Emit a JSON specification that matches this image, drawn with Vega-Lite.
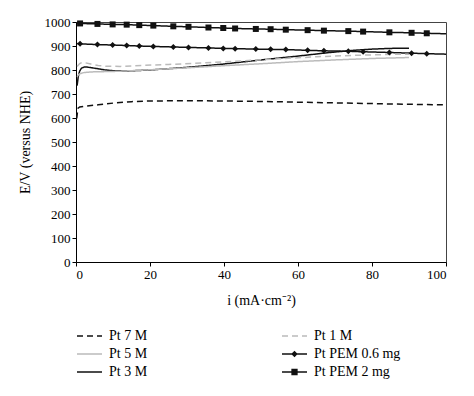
{
  "$schema": "https://vega.github.io/schema/vega-lite/v6.json",
  "autosize": "none",
  "width": 370,
  "height": 240,
  "padding": {"left": 76, "top": 22, "right": 28, "bottom": 134},
  "background": "white",
  "config": {
    "font": "Liberation Serif",
    "view": {"stroke": "#444", "strokeWidth": 1},
    "axis": {
      "labelFont": "Liberation Serif", "labelFontSize": 13, "labelColor": "black",
      "titleFont": "Liberation Serif", "titleFontSize": 14, "titleFontWeight": "normal", "titleColor": "black",
      "domainColor": "black", "tickColor": "black", "tickSize": 4, "grid": false, "labelPadding": 2, "format": "d"
    },
    "legend": {
      "labelFont": "Liberation Serif", "labelFontSize": 14, "labelColor": "black"
    }
  },
  "datasets": {
    "curves": [
      {"series": "Pt PEM 2 mg", "i": 0.3, "E": 995},
      {"series": "Pt PEM 2 mg", "i": 1.1, "E": 994},
      {"series": "Pt PEM 2 mg", "i": 5.8, "E": 992},
      {"series": "Pt PEM 2 mg", "i": 9.9, "E": 990},
      {"series": "Pt PEM 2 mg", "i": 13.7, "E": 989},
      {"series": "Pt PEM 2 mg", "i": 17.1, "E": 987},
      {"series": "Pt PEM 2 mg", "i": 20.9, "E": 985},
      {"series": "Pt PEM 2 mg", "i": 26.3, "E": 982},
      {"series": "Pt PEM 2 mg", "i": 30.4, "E": 980},
      {"series": "Pt PEM 2 mg", "i": 35.8, "E": 977},
      {"series": "Pt PEM 2 mg", "i": 39.8, "E": 975},
      {"series": "Pt PEM 2 mg", "i": 43, "E": 973},
      {"series": "Pt PEM 2 mg", "i": 48.6, "E": 971},
      {"series": "Pt PEM 2 mg", "i": 52.6, "E": 970},
      {"series": "Pt PEM 2 mg", "i": 56.7, "E": 968},
      {"series": "Pt PEM 2 mg", "i": 62.6, "E": 966},
      {"series": "Pt PEM 2 mg", "i": 67, "E": 964},
      {"series": "Pt PEM 2 mg", "i": 73.6, "E": 962},
      {"series": "Pt PEM 2 mg", "i": 77.6, "E": 960},
      {"series": "Pt PEM 2 mg", "i": 84.7, "E": 957},
      {"series": "Pt PEM 2 mg", "i": 90.7, "E": 955},
      {"series": "Pt PEM 2 mg", "i": 94.8, "E": 953},
      {"series": "Pt PEM 2 mg", "i": 100, "E": 951},

      {"series": "Pt PEM 0.6 mg", "i": 0.3, "E": 910},
      {"series": "Pt PEM 0.6 mg", "i": 1.1, "E": 909},
      {"series": "Pt PEM 0.6 mg", "i": 5.8, "E": 906},
      {"series": "Pt PEM 0.6 mg", "i": 9.9, "E": 904},
      {"series": "Pt PEM 0.6 mg", "i": 13.7, "E": 902},
      {"series": "Pt PEM 0.6 mg", "i": 17.1, "E": 900},
      {"series": "Pt PEM 0.6 mg", "i": 20.9, "E": 898},
      {"series": "Pt PEM 0.6 mg", "i": 26.3, "E": 896},
      {"series": "Pt PEM 0.6 mg", "i": 30.4, "E": 894},
      {"series": "Pt PEM 0.6 mg", "i": 35.8, "E": 892},
      {"series": "Pt PEM 0.6 mg", "i": 39.8, "E": 890},
      {"series": "Pt PEM 0.6 mg", "i": 43, "E": 889},
      {"series": "Pt PEM 0.6 mg", "i": 48.6, "E": 887},
      {"series": "Pt PEM 0.6 mg", "i": 52.6, "E": 886},
      {"series": "Pt PEM 0.6 mg", "i": 56.7, "E": 885},
      {"series": "Pt PEM 0.6 mg", "i": 62.6, "E": 882},
      {"series": "Pt PEM 0.6 mg", "i": 67, "E": 880},
      {"series": "Pt PEM 0.6 mg", "i": 73.6, "E": 878},
      {"series": "Pt PEM 0.6 mg", "i": 77.6, "E": 876},
      {"series": "Pt PEM 0.6 mg", "i": 84.7, "E": 873},
      {"series": "Pt PEM 0.6 mg", "i": 90.7, "E": 870},
      {"series": "Pt PEM 0.6 mg", "i": 94.8, "E": 868},
      {"series": "Pt PEM 0.6 mg", "i": 100, "E": 866},

      {"series": "Pt 3 M", "i": 0.3, "E": 735},
      {"series": "Pt 3 M", "i": 0.6, "E": 772},
      {"series": "Pt 3 M", "i": 1, "E": 796},
      {"series": "Pt 3 M", "i": 1.5, "E": 808},
      {"series": "Pt 3 M", "i": 2.2, "E": 812},
      {"series": "Pt 3 M", "i": 3, "E": 812},
      {"series": "Pt 3 M", "i": 4, "E": 810},
      {"series": "Pt 3 M", "i": 6, "E": 805},
      {"series": "Pt 3 M", "i": 8, "E": 800},
      {"series": "Pt 3 M", "i": 10, "E": 797},
      {"series": "Pt 3 M", "i": 14, "E": 796},
      {"series": "Pt 3 M", "i": 20, "E": 800},
      {"series": "Pt 3 M", "i": 30, "E": 811},
      {"series": "Pt 3 M", "i": 40, "E": 825},
      {"series": "Pt 3 M", "i": 50, "E": 842},
      {"series": "Pt 3 M", "i": 60, "E": 858},
      {"series": "Pt 3 M", "i": 68, "E": 872},
      {"series": "Pt 3 M", "i": 75, "E": 882},
      {"series": "Pt 3 M", "i": 80, "E": 887},
      {"series": "Pt 3 M", "i": 85, "E": 890},
      {"series": "Pt 3 M", "i": 90, "E": 891},

      {"series": "Pt 5 M", "i": 0.3, "E": 772},
      {"series": "Pt 5 M", "i": 0.6, "E": 779},
      {"series": "Pt 5 M", "i": 1, "E": 784},
      {"series": "Pt 5 M", "i": 2, "E": 789},
      {"series": "Pt 5 M", "i": 4, "E": 792},
      {"series": "Pt 5 M", "i": 7, "E": 793},
      {"series": "Pt 5 M", "i": 10, "E": 794},
      {"series": "Pt 5 M", "i": 15, "E": 797},
      {"series": "Pt 5 M", "i": 20, "E": 801},
      {"series": "Pt 5 M", "i": 30, "E": 809},
      {"series": "Pt 5 M", "i": 40, "E": 818},
      {"series": "Pt 5 M", "i": 50, "E": 826},
      {"series": "Pt 5 M", "i": 60, "E": 835},
      {"series": "Pt 5 M", "i": 70, "E": 842},
      {"series": "Pt 5 M", "i": 80, "E": 848},
      {"series": "Pt 5 M", "i": 90, "E": 852},

      {"series": "Pt 1 M", "i": 0.3, "E": 815},
      {"series": "Pt 1 M", "i": 1, "E": 827},
      {"series": "Pt 1 M", "i": 1.6, "E": 831},
      {"series": "Pt 1 M", "i": 2.5, "E": 830},
      {"series": "Pt 1 M", "i": 4, "E": 825},
      {"series": "Pt 1 M", "i": 6, "E": 819},
      {"series": "Pt 1 M", "i": 8, "E": 816},
      {"series": "Pt 1 M", "i": 12, "E": 815},
      {"series": "Pt 1 M", "i": 18, "E": 819},
      {"series": "Pt 1 M", "i": 25, "E": 823},
      {"series": "Pt 1 M", "i": 35, "E": 830},
      {"series": "Pt 1 M", "i": 45, "E": 838},
      {"series": "Pt 1 M", "i": 55, "E": 847},
      {"series": "Pt 1 M", "i": 65, "E": 855},
      {"series": "Pt 1 M", "i": 75, "E": 861},
      {"series": "Pt 1 M", "i": 85, "E": 865},
      {"series": "Pt 1 M", "i": 90, "E": 866},

      {"series": "Pt 7 M", "i": 0.2, "E": 598},
      {"series": "Pt 7 M", "i": 0.4, "E": 625},
      {"series": "Pt 7 M", "i": 0.5, "E": 640},
      {"series": "Pt 7 M", "i": 1, "E": 646},
      {"series": "Pt 7 M", "i": 3, "E": 650},
      {"series": "Pt 7 M", "i": 6, "E": 655},
      {"series": "Pt 7 M", "i": 10, "E": 662},
      {"series": "Pt 7 M", "i": 15, "E": 668},
      {"series": "Pt 7 M", "i": 20, "E": 671},
      {"series": "Pt 7 M", "i": 30, "E": 672},
      {"series": "Pt 7 M", "i": 40, "E": 671},
      {"series": "Pt 7 M", "i": 50, "E": 669},
      {"series": "Pt 7 M", "i": 60, "E": 666},
      {"series": "Pt 7 M", "i": 70, "E": 663},
      {"series": "Pt 7 M", "i": 80, "E": 660},
      {"series": "Pt 7 M", "i": 90, "E": 657},
      {"series": "Pt 7 M", "i": 100, "E": 655}
    ]
  },
  "data": {"name": "curves"},
  "encoding": {
    "x": {"field": "i", "type": "quantitative", "scale": {"domain": [0, 100], "nice": false},
      "axis": {"title": "i (mA·cm⁻²)", "values": [0, 20, 40, 60, 80, 100], "titlePadding": 12}},
    "y": {"field": "E", "type": "quantitative", "scale": {"domain": [0, 1000], "nice": false},
      "axis": {"title": "E/V (versus NHE)", "values": [0, 100, 200, 300, 400, 500, 600, 700, 800, 900, 1000], "titlePadding": 12}}
  },
  "layer": [
    {
      "mark": {"type": "line", "strokeWidth": 1.5},
      "encoding": {
        "color": {"field": "series", "type": "nominal",
          "scale": {"domain": ["Pt 7 M", "Pt 5 M", "Pt 3 M", "Pt 1 M", "Pt PEM 0.6 mg", "Pt PEM 2 mg"],
                    "range": ["#111111", "#bbbbbb", "#111111", "#bbbbbb", "#111111", "#111111"]},
          "legend": {
            "title": null, "orient": "bottom", "direction": "vertical", "columns": 2,
            "columnPadding": 131, "rowPadding": 2, "symbolSize": 256, "symbolStrokeWidth": 1.5,
            "labelOffset": 15, "offset": 20,
            "encode": {"symbols": {"update": {
              "shape": {"signal": "datum.value === 'Pt PEM 0.6 mg' ? 'M-1,0L2.125,0M0.5625,-0.28L0.8425,0L0.5625,0.28L0.2825,0Z' : datum.value === 'Pt PEM 2 mg' ? 'M-1,0L2.125,0M0.2625,-0.3L0.8625,-0.3L0.8625,0.3L0.2625,0.3Z' : 'M-1,0L2.125,0'"},
              "fill": {"value": "#111111"}, "fillOpacity": {"value": 1}
            }}}
          }},
        "strokeDash": {"field": "series", "type": "nominal",
          "scale": {"domain": ["Pt 7 M", "Pt 5 M", "Pt 3 M", "Pt 1 M", "Pt PEM 0.6 mg", "Pt PEM 2 mg"],
                    "range": [[6, 4], [1, 0], [1, 0], [6, 4], [1, 0], [1, 0]]},
          "legend": {
            "title": null, "orient": "bottom", "direction": "vertical", "columns": 2,
            "columnPadding": 131, "rowPadding": 2, "symbolSize": 256, "symbolStrokeWidth": 1.5,
            "labelOffset": 15, "offset": 20
          }}
      }
    },
    {
      "transform": [
        {"filter": {"field": "series", "oneOf": ["Pt PEM 0.6 mg", "Pt PEM 2 mg"]}},
        {"filter": "datum.i > 1 && datum.i < 96"}
      ],
      "mark": {"type": "point", "filled": true, "opacity": 1, "color": "#111111"},
      "encoding": {
        "shape": {"field": "series", "type": "nominal",
          "scale": {"domain": ["Pt PEM 0.6 mg", "Pt PEM 2 mg"], "range": ["diamond", "square"]},
          "legend": null},
        "size": {"value": 36}
      }
    }
  ]
}
